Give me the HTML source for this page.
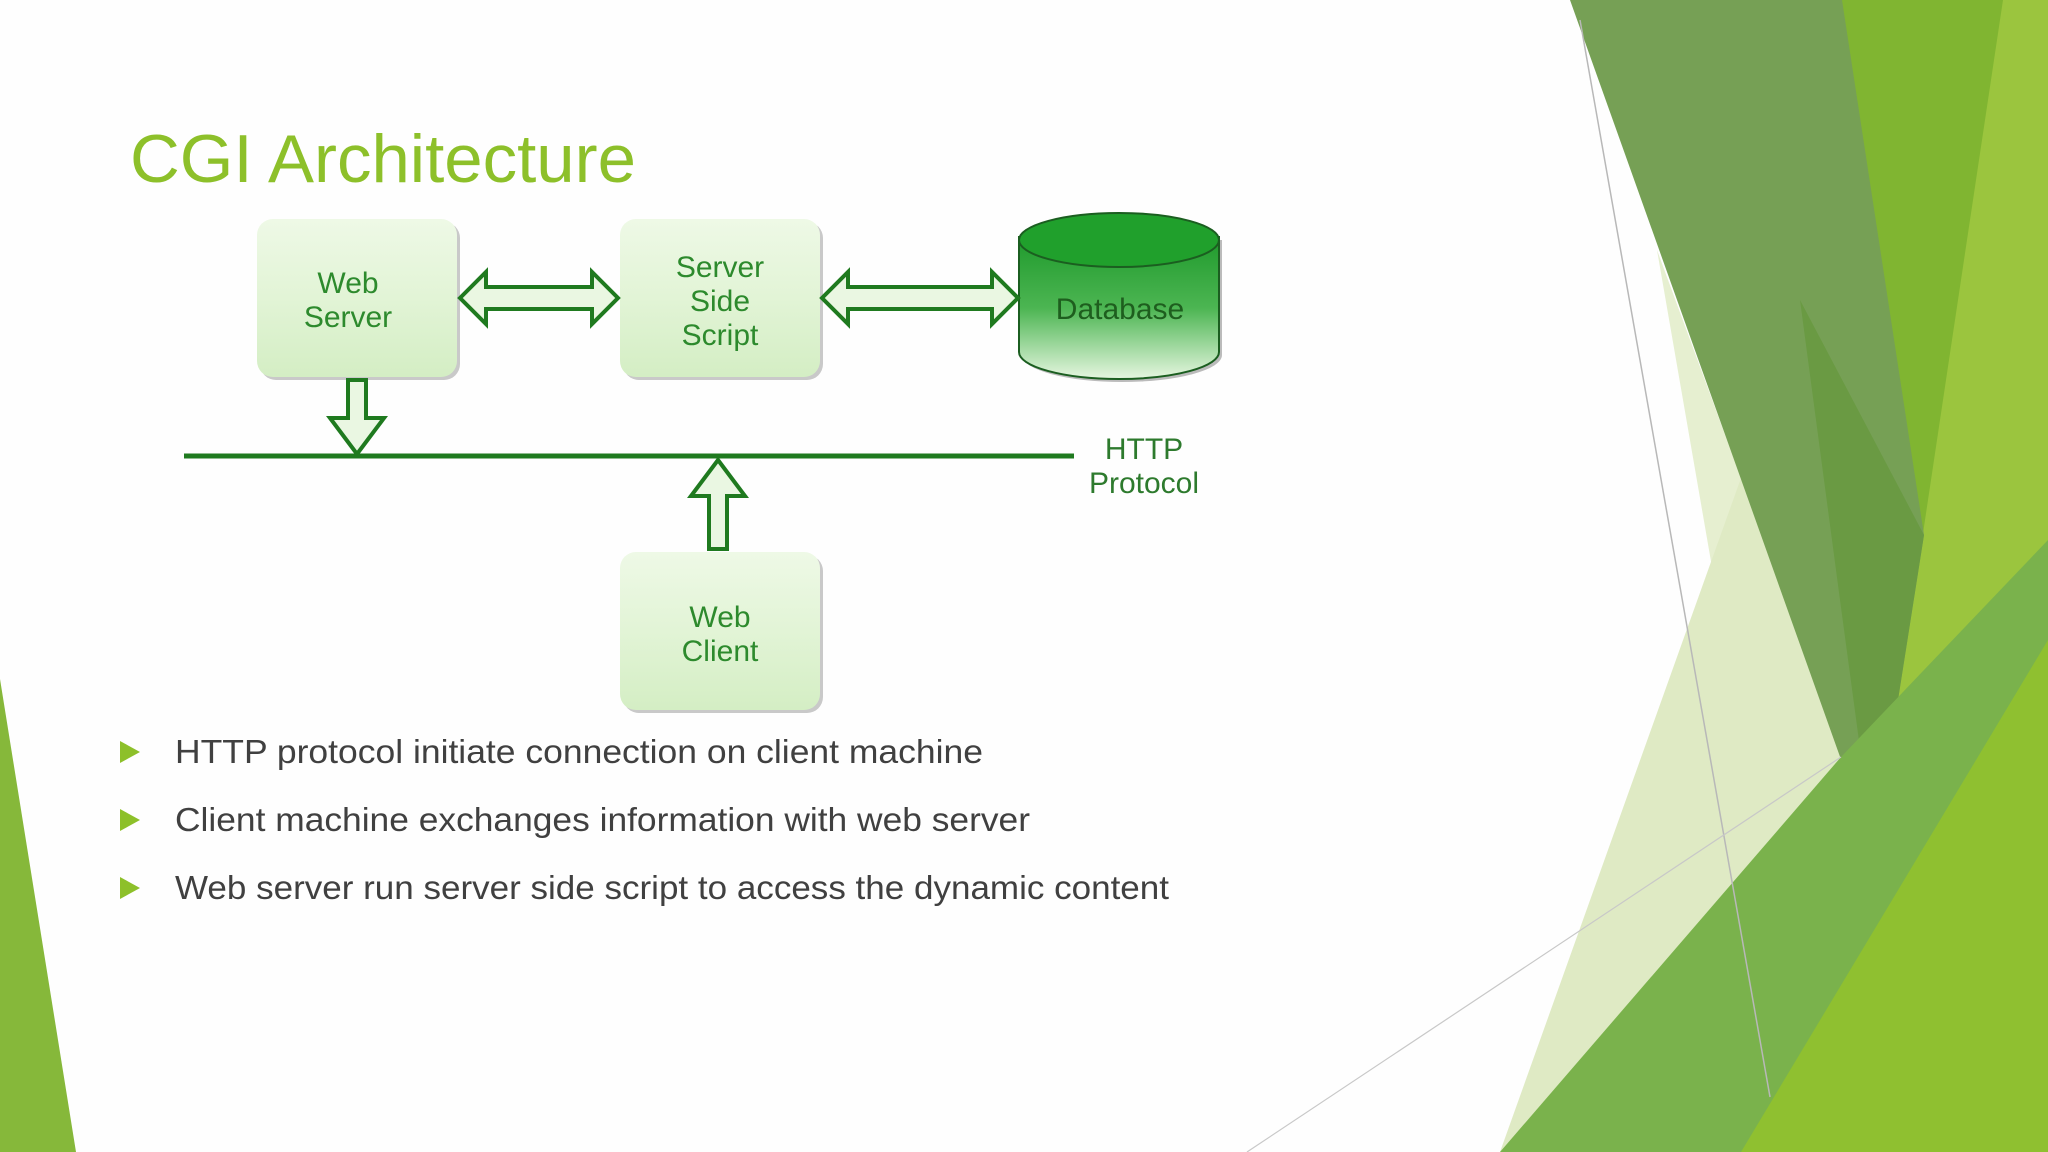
<!DOCTYPE html>
<html><head><meta charset="utf-8"><style>
html,body{margin:0;padding:0;background:#fff}
svg{display:block}
</style></head><body>
<svg width="2048" height="1152" viewBox="0 0 2048 1152" xmlns="http://www.w3.org/2000/svg">
<defs>
<linearGradient id="box" x1="0" y1="0" x2="0" y2="1">
<stop offset="0" stop-color="#eef9e6"/><stop offset="0.5" stop-color="#e2f4d6"/><stop offset="1" stop-color="#d4eec4"/>
</linearGradient>
<linearGradient id="cyl" x1="0" y1="0" x2="0" y2="1">
<stop offset="0" stop-color="#1f9a2c"/><stop offset="0.5" stop-color="#4cb552"/><stop offset="1" stop-color="#e6f6e0"/>
</linearGradient>
</defs>
<rect width="2048" height="1152" fill="#fefefe"/>
<polygon points="0,679 76,1152 0,1152" fill="#86b83a"/>
<!-- right decorations -->
<polygon points="1657,250 1741,478 1713,573" fill="#e6efd0"/>
<polygon points="1741,478 1880,690 1874,852 1543,1152 1500,1152" fill="#dfeac4"/>
<polygon points="2000,0 2048,0 2048,1152 1870,1152 1860,933" fill="#9bc53e"/>
<polygon points="1836,0 2003,0 1922,540" fill="#80b531"/>
<polygon points="1570,0 1842,0 1924,535 1874,852" fill="#76a055"/>
<polygon points="1800,300 1924,535 1874,852 1840,600" fill="#6a9a43"/>
<polygon points="1500,1152 1841,757 2048,540 2048,645 1745,1152" fill="#7ab24c"/>
<polygon points="1741,1152 2048,640 2048,1152" fill="#8fc030"/>
<line x1="1580" y1="20" x2="1770" y2="1097" stroke="#b8b8b8" stroke-width="1.5"/>
<line x1="1247" y1="1152" x2="1841" y2="757" stroke="#c8c8c8" stroke-width="1.2"/>
<!-- title -->
<text x="130" y="182" font-family="Liberation Sans, sans-serif" font-size="68" fill="#8dc02a" textLength="506" lengthAdjust="spacingAndGlyphs">CGI Architecture</text>
<g font-family="Liberation Sans, sans-serif" font-size="30" fill="#2d8a2d" text-anchor="middle">
<rect x="260" y="222" width="200" height="158" rx="16" fill="#c9c9c9"/>
<rect x="257" y="219" width="200" height="158" rx="16" fill="url(#box)"/>
<text x="348" y="293">Web</text><text x="348" y="327">Server</text>
<rect x="623" y="222" width="200" height="158" rx="16" fill="#c9c9c9"/>
<rect x="620" y="219" width="200" height="158" rx="16" fill="url(#box)"/>
<text x="720" y="277">Server</text><text x="720" y="311">Side</text><text x="720" y="345">Script</text>
<rect x="623" y="555" width="200" height="158" rx="16" fill="#c9c9c9"/>
<rect x="620" y="552" width="200" height="158" rx="16" fill="url(#box)"/>
<text x="720" y="627">Web</text><text x="720" y="661">Client</text>
<path d="M1022,240 L1022,355 A100,27 0 0 0 1222,355 L1222,240" fill="#bbb"/>
<path d="M1019,237 L1019,352 A100,27 0 0 0 1219,352 L1219,237 Z" fill="url(#cyl)" stroke="#1b5e20" stroke-width="2"/>
<ellipse cx="1119" cy="240" rx="100" ry="27" fill="#20a02c" stroke="#1b5e20" stroke-width="2"/>
<text x="1120" y="319" fill="#1e5e1e">Database</text>
<text x="1144" y="459" fill="#2d7a2d">HTTP</text><text x="1144" y="493" fill="#2d7a2d">Protocol</text>
</g>
<g fill="#eaf7e2" stroke="#1f7a1f" stroke-width="4" stroke-linejoin="miter">
<polygon points="460,298 486,272 486,287 592,287 592,272 618,298 592,324 592,309 486,309 486,324"/>
<polygon points="822,298 848,272 848,287 992,287 992,272 1018,298 992,324 992,309 848,309 848,324"/>
<polygon points="348,380 366,380 366,418 384,418 357,454 330,418 348,418"/>
<polygon points="709,549 727,549 727,496 745,496 718,460 691,496 709,496"/>
</g>
<line x1="184" y1="456" x2="1074" y2="456" stroke="#1f7a1f" stroke-width="5"/>
<g font-family="Liberation Sans, sans-serif" font-size="33" fill="#404040">
<polygon points="120,741 140,752 120,763" fill="#8dc02a"/>
<text x="175" y="763" textLength="808" lengthAdjust="spacingAndGlyphs">HTTP protocol initiate connection on client machine</text>
<polygon points="120,809 140,820 120,831" fill="#8dc02a"/>
<text x="175" y="831" textLength="855" lengthAdjust="spacingAndGlyphs">Client machine exchanges information with web server</text>
<polygon points="120,877 140,888 120,899" fill="#8dc02a"/>
<text x="175" y="899" textLength="994" lengthAdjust="spacingAndGlyphs">Web server run server side script to access the dynamic content</text>
</g>
</svg>
</body></html>
